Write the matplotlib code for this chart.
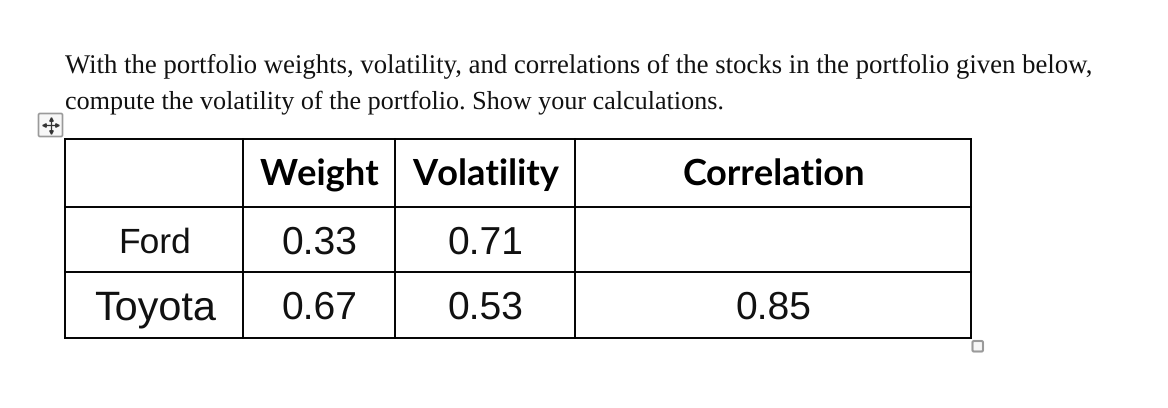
import matplotlib
matplotlib.use("Agg")
import matplotlib.pyplot as plt
from matplotlib.patches import FancyBboxPatch

plt.rcParams["text.hinting"] = "no_hinting"
plt.rcParams["text.hinting_factor"] = 8

intro_lines = ["With the portfolio weights, volatility, and correlations of the stocks in the portfolio given below,",
               "compute the volatility of the portfolio. Show your calculations."]
col_labels = ["", "Weight", "Volatility", "Correlation"]
stocks = ["Ford", "Toyota"]
weights = ["0.33", "0.67"]
volatility = ["0.71", "0.53"]
correlation = ["", "0.85"]

col_edges = [65, 243, 395, 575, 971]
row_edges = [139, 207, 272, 338]

fig = plt.figure(figsize=(11.68, 4.08), dpi=100)
ax = fig.add_axes([0, 0, 1, 1])
ax.set_xlim(0, 1168)
ax.set_ylim(408, 0)
ax.axis("off")

ax.text(65, 72, intro_lines[0], family="Liberation Serif", fontsize=19.25, va="baseline", ha="left", color="#111111")
ax.text(65, 108, intro_lines[1], family="Liberation Serif", fontsize=18.85, va="baseline", ha="left", color="#111111")

for x in col_edges:
    ax.plot([x, x], [row_edges[0], row_edges[-1]], color="black", lw=1.4, solid_capstyle="projecting")
for y in row_edges:
    ax.plot([col_edges[0], col_edges[-1]], [y, y], color="black", lw=1.4, solid_capstyle="projecting")

def center(i):
    return (col_edges[i] + col_edges[i + 1]) / 2

header_base = [186, 186, 185, 186]
for i, lab in enumerate(col_labels):
    ax.text(center(i) + 1, header_base[i], lab, family="Lato", weight="bold", fontsize=26.1, ha="center", va="baseline", color="black")

sizes = {"Ford": 25.45, "Toyota": 29.8}
rows = [(stocks[k], weights[k], volatility[k], correlation[k]) for k in range(2)]
for (vals, yb) in zip(rows, [254, 319]):
    for i, v in enumerate(vals):
        y = yb - 1 if v == "Ford" else yb
        ax.text(center(i) + 0.7, y, v, family="Liberation Sans", fontsize=sizes.get(v, 28.1), ha="center", va="baseline", color="#111111")

# move handle and resize handle
ax.add_patch(FancyBboxPatch((38.5, 113.5), 24, 23, boxstyle="round,pad=0,rounding_size=1.5", fc="#f7f7f7", ec="#9a9a9a", lw=1.2))
ax.plot([44, 57], [125, 125], color="#333333", lw=0.9)
ax.plot([50.5, 50.5], [119, 131], color="#333333", lw=0.9)
ax.plot([50.5], [118.5], marker="^", ms=2.5, color="#333333")
ax.plot([50.5], [131.5], marker="v", ms=2.5, color="#333333")
ax.plot([44], [125], marker="<", ms=2.5, color="#333333")
ax.plot([57], [125], marker=">", ms=2.5, color="#333333")
ax.add_patch(FancyBboxPatch((972.5, 341), 10.5, 10.5, boxstyle="round,pad=0,rounding_size=1.5", fc="#f7f7f7", ec="#9a9a9a", lw=1.5))

fig.savefig("out.png", dpi=100, facecolor="white")
